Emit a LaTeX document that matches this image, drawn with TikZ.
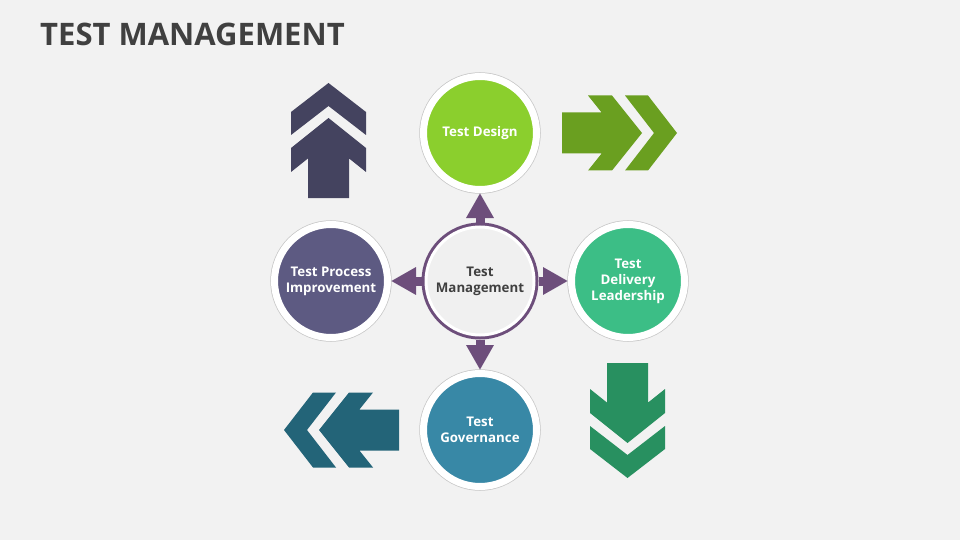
\documentclass[tikz,border=0pt]{standalone}
\usepackage{fontspec}
\setmainfont{Open Sans}
\usetikzlibrary{arrows.meta}

\definecolor{bgcol}{HTML}{F2F2F2}
\definecolor{titlecol}{HTML}{404040}
\definecolor{hubpurple}{HTML}{6D4E7B}
\definecolor{designcol}{HTML}{8BCF2D}
\definecolor{improvecol}{HTML}{5D5A82}
\definecolor{deliverycol}{HTML}{3CBE86}
\definecolor{govcol}{HTML}{3888A6}
\definecolor{upcol}{HTML}{44435F}
\definecolor{rightcol}{HTML}{6A9F20}
\definecolor{leftcol}{HTML}{236478}
\definecolor{downcol}{HTML}{289060}

\tikzset{
  topic/.style={circle, minimum size=113pt, line width=7pt, draw=white,
    preaction={draw=black!22, line width=8.5pt}, text=white, align=center,
    font=\fontsize{13.3}{16}\selectfont\bfseries},
  hub/.style={circle, minimum size=108pt, line width=3pt, draw=white, fill=black!6,
    preaction={draw=hubpurple, line width=9pt}, outer sep=4.5pt, text=titlecol,
    align=center, font=\fontsize{13.3}{16}\selectfont\bfseries},
  spoke/.style={hubpurple, line width=9pt, -{Triangle[width=26pt,length=25pt]}},
  bigarrow/.pic={
    \fill (0,-20.5) -- (39.6,-20.5) -- (26,-37.5) -- (50,-37.5) -- (80,0)
      -- (50,37.5) -- (26,37.5) -- (39.6,20.5) -- (0,20.5) -- cycle;
    \fill (63,-37.5) -- (86,-37.5) -- (115,0) -- (86,37.5) -- (63,37.5) -- (92,0) -- cycle;
  }
}

\begin{document}
\begin{tikzpicture}[x=1pt,y=-1pt]
  \fill[bgcol] (0,0) rectangle (960,540);
  \useasboundingbox (0,0) rectangle (960,540);

  % Title
  \node[anchor=base west, inner sep=0pt, text=titlecol,
    font=\fontsize{31}{36}\selectfont\bfseries] (title) at (40,46) {TEST MANAGEMENT};

  % Big arrows
  \pic[fill=upcol, rotate=90] at (328.5,198) {bigarrow};
  \pic[fill=rightcol] at (562,133) {bigarrow};
  \pic[fill=leftcol, rotate=180] at (399,430) {bigarrow};
  \pic[fill=downcol, rotate=-90] at (627.5,363) {bigarrow};

  % Nodes
  \node[hub] (mgmt) at (480,281) {Test\\Management};
  \node[topic, fill=designcol] (design) at (480,133) {Test Design};
  \node[topic, fill=improvecol] (improve) at (331,281) {Test Process\\Improvement};
  \node[topic, fill=deliverycol] (delivery) at (628,281) {Test\\Delivery\\Leadership};
  \node[topic, fill=govcol] (gov) at (480,430) {Test\\Governance};

  % Arrows
  \draw[spoke] (mgmt) -- (design);
  \draw[spoke] (mgmt) -- (improve);
  \draw[spoke] (mgmt) -- (delivery);
  \draw[spoke] (mgmt) -- (gov);
\end{tikzpicture}
\end{document}
